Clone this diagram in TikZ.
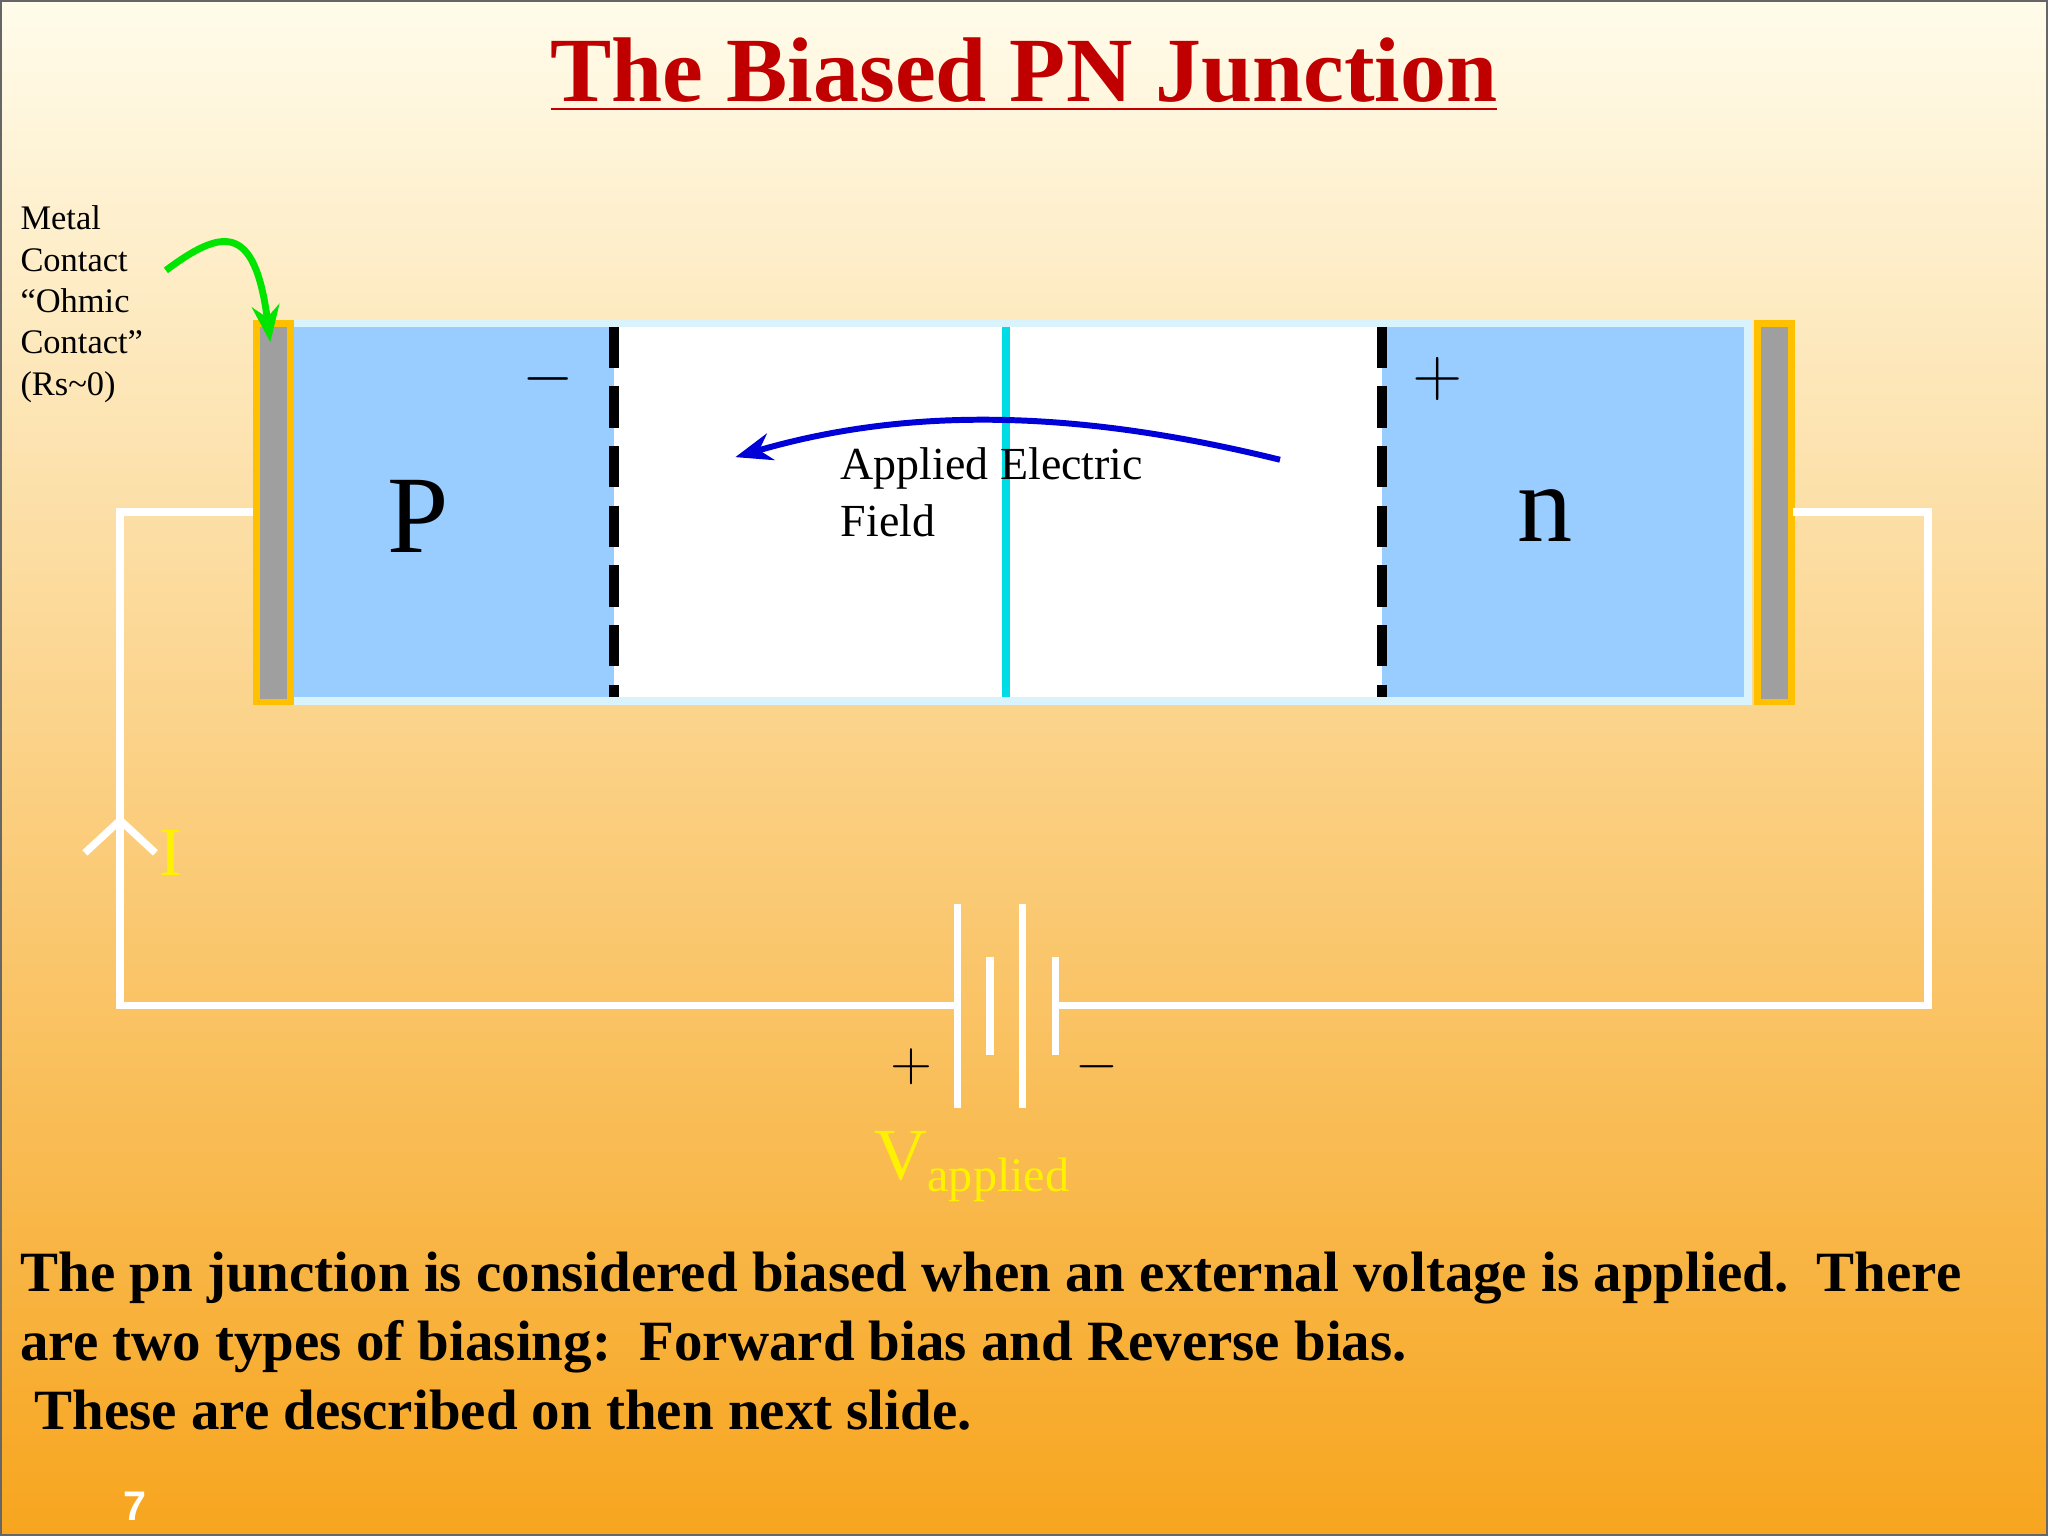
\documentclass[tikz,border=0pt]{standalone}
\usepackage{fontspec}
\setmainfont{Liberation Serif}
\setsansfont{Liberation Sans}
\usetikzlibrary{arrows.meta,positioning}
\definecolor{pblue}{RGB}{153,204,255}
\definecolor{title}{RGB}{192,0,0}
\definecolor{contact}{RGB}{255,192,0}
\definecolor{junc}{RGB}{0,220,230}
\definecolor{bgtop}{RGB}{255,252,235}
\definecolor{bgmid}{RGB}{253,228,120}
\definecolor{bgbot}{RGB}{247,165,30}
\begin{document}
\begin{tikzpicture}[x=0.01cm,y=-0.01cm,
  wire/.style={white,line width=1.6pt},
  plate/.style={white,line width=1.6pt},
  edge line/.style={black,line width=2.2pt,dash pattern=on 9pt off 4pt},
  every node/.style={inner sep=0pt}]
\useasboundingbox (0,0) rectangle (1568,1176);
\shade[top color=bgtop, middle color=bgmid, bottom color=bgbot] (0,0) rectangle (1568,1176);
\draw[black!60,line width=1pt] (0,0) rectangle (1568,1176);
% title
\node (ttl) at (784,57) {\fontsize{20}{24}\selectfont\bfseries\color{title}\underline{The Biased PN Junction}};
% semiconductor bar
\fill[cyan!15] (220,244) rectangle (1341,540);
\fill[pblue] (224,250) rectangle (470,534);
\fill[white] (470,250) rectangle (1058,534);
\fill[pblue] (1058,250) rectangle (1335,534);
\draw[edge line] (470,250) -- (470,534);
\draw[edge line] (1058,250) -- (1058,534);
\draw[junc,line width=1.8pt] (770,250) -- (770,534);
% contacts
\foreach \x/\nm in {194/lc,1343/rc}{
  \fill[contact] (\x,245) rectangle ++(31,295);
  \fill[gray!75] (\x+5,250) rectangle ++(21,285);
  \coordinate (\nm) at (\x,392);
}
\node (pl) at (320,395) {\fontsize{24}{28}\selectfont P};
\node (nl) at (1183,395) {\fontsize{24}{28}\selectfont n};
\node (pm) at (420,290) {\fontsize{14}{16}\selectfont $-$};
\node (np) at (1101,290) {\fontsize{14}{16}\selectfont $+$};
% field
\coordinate (fa) at (980,352);
\coordinate (fb) at (563,350);
\draw[blue!85!black,line width=1.3pt,-{Stealth[length=8pt]}] (fa) .. controls (830,315) and (700,310) .. (fb);
\node[align=left,anchor=north west,font=\fontsize{10}{12.5}\selectfont] (fld) at (643,342) {Applied Electric\\Field};
% metal contact label
\node[align=left,anchor=north west,font=\fontsize{7.5}{9}\selectfont] (mc) at (15,157) {Metal\\Contact\\``Ohmic\\Contact''\\(Rs\textasciitilde0)};
\coordinate (ga) at (127,207);
\draw[green!90!black,line width=1.5pt,-{Stealth[length=8pt]}] (ga) .. controls (170,175) and (195,170) .. (207,262);
% circuit
\coordinate (bl) at (733,770);
\coordinate (br) at (808,770);
\draw[wire] (lc) -- (92,392) -- (92,770) -- (bl);
\draw[wire] (1373,392) -- (1476,392) -- (1476,770) -- (br);
\draw[plate] (733,692) -- (733,848);
\draw[plate] (758,733) -- (758,808);
\draw[plate] (783,692) -- (783,848);
\draw[plate] (808,733) -- (808,808);
\draw[wire] (65,653) -- (92,628) -- (119,653);
\node (cur) at (131,653) {\fontsize{15}{18}\selectfont\color{yellow}I};
\node (bp) at (698,817) {\fontsize{13}{16}\selectfont $+$};
\node (bm) at (840,817) {\fontsize{13}{16}\selectfont $-$};
\node (va) at (745,893) {\fontsize{16}{20}\selectfont\color{yellow}V\textsubscript{\fontsize{10.5}{12}\selectfont applied}};
% description
\node[align=left,anchor=north west,font=\fontsize{12.4}{15}\selectfont\bfseries] (txt) at (15,958) {The pn junction is considered biased when an external voltage is applied.\ \ There\\are two types of biasing:\ \ Forward bias and Reverse bias.\\\ These are described on then next slide.};
\node (pg) at (103,1153) {\fontsize{9}{11}\selectfont\sffamily\bfseries\color{white}7};
\end{tikzpicture}
\end{document}
